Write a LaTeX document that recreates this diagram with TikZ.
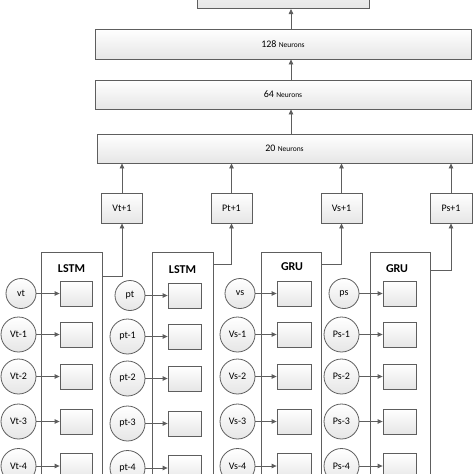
\documentclass[tikz,border=0pt]{standalone}
\usepackage{fontspec}
\setmainfont{Carlito}
\usetikzlibrary{arrows.meta,calc,shadows}
\definecolor{lc}{HTML}{5E5E5E}
\definecolor{fillb}{HTML}{E6E6E6}
\begin{document}
\begin{tikzpicture}[x=1pt,y=-1pt,
  arr/.style={draw=lc, line width=0.8pt, -{Triangle[length=5pt,width=4.5pt]}},
  gbox/.style={draw=lc, line width=0.8pt, top color=white, bottom color=fillb, inner sep=0pt,
    drop shadow={shadow xshift=0.8pt, shadow yshift=-0.8pt, opacity=0.2}},
  cont/.style={draw=lc, line width=0.8pt, fill=white, inner sep=0pt},
  circ/.style={circle, draw=lc, line width=0.8pt, top color=white, bottom color=fillb, inner sep=0pt,
    font=\fontsize{10}{12}\selectfont},
  lbl/.style={font=\fontsize{12}{14}\selectfont\bfseries, inner sep=0pt},
  obox/.style={gbox, minimum width=41, minimum height=30, font=\fontsize{10}{12}\selectfont},
  nbox/.style={gbox, minimum width=376, minimum height=30}
]
\useasboundingbox (0,0) rectangle (474,474);
\clip (0,0) rectangle (474,474);

\newcommand{\neur}[1]{{\fontsize{10}{12}\selectfont #1} {\fontsize{7.5}{9}\selectfont Neurons}}

% dense layers
\node[gbox, minimum width=172, minimum height=40, anchor=south] (top) at (283,9) {};
\node[nbox] (n128) at (283,44) {\neur{128}};
\node[nbox, minimum height=29] (n64) at (283,94.5) {\neur{64}};
\node[nbox, minimum width=375, minimum height=29] (n20) at (284.5,148.5) {\neur{20}};
\coordinate (cx) at (291,0);
\draw[arr] (n20.north -| cx) -- (n64.south -| cx);
\draw[arr] (n64.north -| cx) -- (n128.south -| cx);
\draw[arr] (n128.north -| cx) -- (top.south -| cx);

% output boxes
\node[obox] (o1) at (122,208) {Vt+1};
\node[obox] (o2) at (231.5,208) {Pt+1};
\node[obox] (o3) at (341.5,208) {Vs+1};
\node[obox, minimum width=42] (o4) at (451,208) {Ps+1};
\foreach \i in {1,2,3,4} {
  \draw[arr] (o\i.north) -- (o\i.north |- n20.south);
}

% recurrent containers
\node[cont, minimum width=61, minimum height=260, anchor=north] (c1) at (71.5,252) {};
\node[cont, minimum width=61, minimum height=260, anchor=north] (c2) at (182.5,252) {};
\node[cont, minimum width=60, minimum height=260, anchor=north] (c3) at (291,252) {};
\node[cont, minimum width=60, minimum height=260, anchor=north] (c4) at (400,252) {};
\node[lbl] (l1) at (71.5,269) {LSTM};
\node[lbl] (l2) at (182.5,270) {LSTM};
\node[lbl] (l3) at (292,267) {GRU};
\node[lbl] (l4) at (397,269) {GRU};

\draw[arr] ($(c1.north east)+(0,24)$) -| (o1.south);
\draw[arr] ($(c2.north east)+(0,12)$) -| (o2.south);
\draw[arr] ($(c3.north east)+(0,12)$) -| (o3.south);
\draw[arr] ($(c4.north east)+(0,18)$) -| (o4.south);

% inputs and cells
\foreach \c/\bx/\bw/\cr/\dy/\a/\b in {1/76/32/36/0/vt/Vt, 2/184.5/33/145/2/pt/pt, 3/294/34/255/0/vs/Vs, 4/399.5/33/359/0/ps/Ps} {
  \node[circ, minimum size=30] (k\c-0) at ({\cr-15},{293.5+\dy}) {\a};
  \node[gbox, minimum width=\bw, minimum height=25] (b\c-0) at (\bx,{293.5+\dy}) {};
  \draw[arr] (k\c-0) -- (b\c-0);
  \foreach \r/\y in {1/334.5,2/376.5,3/421.5,4/466} {
    \node[circ, minimum size=35] (k\c-\r) at ({\cr-17.5},{\y+\dy}) {\b-\r};
    \node[gbox, minimum width=\bw, minimum height=25] (b\c-\r) at (\bx,{\y+\dy}) {};
    \draw[arr] (k\c-\r) -- (b\c-\r);
  }
}
\end{tikzpicture}
\end{document}
